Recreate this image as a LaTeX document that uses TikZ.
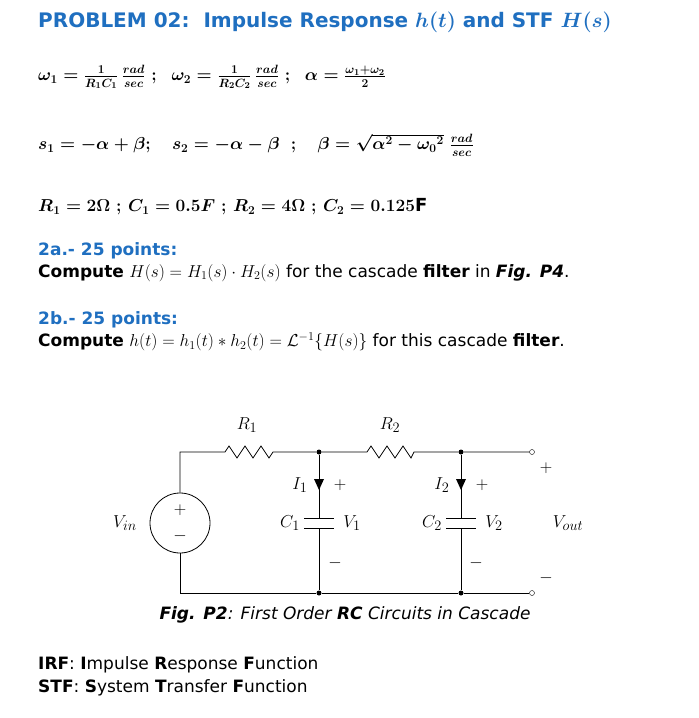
\documentclass[tikz,border=0pt]{standalone}
\usepackage{amsmath,amssymb}
\usepackage{fontspec}
\setmainfont{DejaVu Sans}
\usetikzlibrary{arrows.meta}
\definecolor{ttl}{HTML}{1F6FC0}
\begin{document}
\begin{tikzpicture}[x=1pt,y=-1pt,
  txt/.style={anchor=west,inner sep=0pt,font=\fontsize{17}{20}\selectfont},
  mth/.style={anchor=west,inner sep=0pt,font=\fontsize{18}{22}\selectfont\boldmath},
  hd/.style={anchor=west,inner sep=0pt,font=\fontsize{17}{20}\selectfont\bfseries,text=ttl},
  lbl/.style={inner sep=0pt,font=\fontsize{19}{22}\selectfont},
  wire/.style={line width=0.8pt},
  dot/.style={circle,fill,inner sep=0pt,minimum size=5pt},
  term/.style={circle,draw,fill=white,inner sep=0pt,minimum size=5pt}]
\useasboundingbox (0,0) rectangle (699,718);
\node[hd,font=\fontsize{20}{24}\selectfont\bfseries\boldmath] (title) at (38,22) {PROBLEM 02:\ \ Impulse Response $h(t)$ and STF $H(s)$};
\node[mth] (eq1) at (38,77) {$\omega_1=\frac{1}{R_1C_1}\,\frac{rad}{sec}\ ;\ \ \omega_2=\frac{1}{R_2C_2}\,\frac{rad}{sec}\ ;\ \ \alpha=\frac{\omega_1+\omega_2}{2}$};
\node[mth] (eq2) at (38,145) {$s_1=-\alpha+\beta;\quad s_2=-\alpha-\beta\ \ ;\quad \beta=\sqrt{\alpha^2-{\omega_0}^2}\ \frac{rad}{sec}$};
\node[mth] (eq3) at (38,207) {$R_1=2\Omega\ ;\, C_1=0.5F\ ;\, R_2=4\Omega\ ;\, C_2=0.125\mathrm{F}$};
\node[hd] (a1) at (38,251) {2a.- 25 points:};
\node[txt] (a2) at (38,273) {\textbf{Compute} $H(s)=H_1(s)\cdot H_2(s)$ for the cascade \textbf{filter} in \textbf{\itshape Fig. P4}.};
\node[hd] (b1) at (38,320) {2b.- 25 points:};
\node[txt] (b2) at (38,342) {\textbf{Compute} $h(t)=h_1(t)*h_2(t)=\mathcal{L}^{-1}\{H(s)\}$ for this cascade \textbf{filter}.};
% circuit
\coordinate (tl) at (180,452); \coordinate (bl) at (180,593);
\node[dot] (n1) at (319,452) {}; \node[dot] (n2) at (461,452) {};
\node[dot] (g1) at (319,593) {}; \node[dot] (g2) at (461,593) {};
\node[term] (tp) at (532,452) {}; \node[term] (tm) at (532,593) {};
\node[circle,draw,wire,minimum size=60pt,inner sep=0pt] (src) at (180,523) {};
\draw[wire] (src.north) -- (tl) -- (225,452) -- ++(4,-6) -- ++(8,12) -- ++(8,-12) -- ++(8,12) -- ++(8,-12) -- ++(8,12) -- ++(4,-6) -- (n1)
  -- (367,452) -- ++(4,-6) -- ++(8,12) -- ++(8,-12) -- ++(8,12) -- ++(8,-12) -- ++(8,12) -- ++(3,-6) -- (n2) -- (tp);
\draw[wire] (src.south) -- (bl) -- (g1) -- (g2) -- (tm);
\draw[wire] (n1) -- (319,518); \draw[wire] (319,528) -- (g1);
\draw[wire] (304,518) -- (334,518); \draw[wire] (304,528) -- (334,528);
\draw[wire] (n2) -- (461,518); \draw[wire] (461,528) -- (g2);
\draw[wire] (446,518) -- (476,518); \draw[wire] (446,528) -- (476,528);
\fill (314,479) -- (324,479) -- (319,490) -- cycle;
\fill (456,479) -- (466,479) -- (461,490) -- cycle;
\node[lbl] at (180,510) {$+$}; \node[lbl] at (180,536) {$-$};
\node[lbl] at (125,523) {$V_{in}$};
\node[lbl] at (247,425) {$R_1$}; \node[lbl] at (390,425) {$R_2$};
\node[lbl] at (300,485) {$I_1$}; \node[lbl] at (340,485) {$+$};
\node[lbl] at (442,485) {$I_2$}; \node[lbl] at (482,485) {$+$};
\node[lbl] at (290,523) {$C_1$}; \node[lbl] at (352,523) {$V_1$};
\node[lbl] at (432,523) {$C_2$}; \node[lbl] at (494,523) {$V_2$};
\node[lbl] at (335,563) {$-$}; \node[lbl] at (476,563) {$-$};
\node[lbl] at (568,523) {$V_{out}$};
\node[lbl] at (546,468) {$+$}; \node[lbl] at (546,578) {$-$};
\node[txt,anchor=center] (cap) at (345,615) {\itshape\textbf{Fig. P2}: First Order \textbf{RC} Circuits in Cascade};
\node[txt] (irf) at (38,665) {\textbf{IRF}: \textbf{I}mpulse \textbf{R}esponse \textbf{F}unction};
\node[txt] (stf) at (38,688) {\textbf{STF}: \textbf{S}ystem \textbf{T}ransfer \textbf{F}unction};
\end{tikzpicture}
\end{document}
